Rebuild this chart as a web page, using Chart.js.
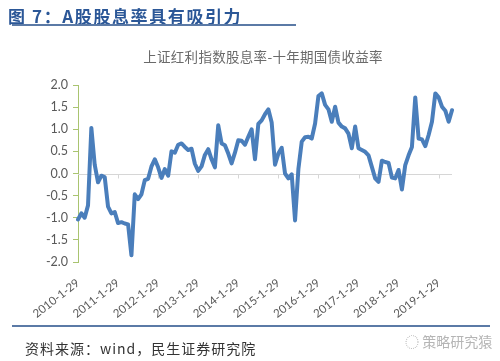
<!DOCTYPE html>
<html>
<head>
<meta charset="utf-8">
<script src="https://cdn.jsdelivr.net/npm/chart.js@4"></script>
<style>
  body { margin: 0; background: #fff; }
  #wrap { position: relative; width: 500px; height: 361px; overflow: hidden; }
  #chart { position: absolute; left: 0; top: 0; }
  .head { position: absolute; left: 8px; top: 3px; font: bold 17px "Noto Sans CJK SC"; color: #2b5797; letter-spacing: 1.6px; white-space: nowrap; }
  .rule { position: absolute; height: 2px; background: #5b7aa6; }
  .ctitle { position: absolute; left: 0; width: 526px; top: 46px; text-align: center; font: 13.5px "Noto Sans CJK SC"; color: #6a6a6a; letter-spacing: 0.3px; white-space: nowrap; }
  .src { position: absolute; left: 25px; top: 338px; font: 14px "Noto Sans CJK SC"; color: #333; letter-spacing: 1px; white-space: nowrap; }
  .mark { position: absolute; left: 405px; top: 331px; font: 14px "Noto Sans CJK SC"; color: #b5b5b5; white-space: nowrap; }
</style>
</head>
<body>
<div id="wrap">
  <canvas id="chart" width="500" height="361"></canvas>
  <div class="head">图 7：A股股息率具有吸引力</div>
  <div class="rule" style="left:12px; top:24px; width:284px;"></div>
  <div class="ctitle">上证红利指数股息率-十年期国债收益率</div>
  <div class="rule" style="left:12px; top:325px; width:478px;"></div>
  <div class="src">资料来源：wind，民生证券研究院</div>
  <div class="mark">◌ 策略研究猿</div>
</div>
<script>
// 上证红利指数股息率 - 十年期国债收益率 (monthly, 2010-01 .. 2019-05)
const spread = [
  -1.04, -0.9, -1.0, -0.72, 1.03, 0.2, -0.2, -0.05, -0.08, -0.75, -0.9, -0.87,
  -1.12, -1.1, -1.13, -1.15, -1.85, -0.47, -0.58, -0.47, -0.15, -0.12, 0.16, 0.32,
  0.14, -0.1, 0.1, -0.05, 0.5, 0.47, 0.65, 0.68, 0.6, 0.53, 0.56, 0.22,
  0.06, 0.16, 0.42, 0.55, 0.32, 0.14, 1.09, 0.68, 0.64, 0.45, 0.23, 0.47,
  0.75, 0.74, 0.65, 0.83, 1.0, 0.32, 1.12, 1.2, 1.34, 1.45, 1.15, 0.2,
  0.45, 0.58, 0.0, -0.11, -0.02, -1.06, 0.1, 0.72, 0.82, 0.83, 0.79, 1.13,
  1.75, 1.81, 1.55, 1.45, 1.17, 1.51, 1.15, 1.06, 1.02, 0.9, 0.57, 1.06,
  0.57, 0.53, 0.49, 0.41, 0.15, -0.11, -0.19, 0.29, 0.26, 0.24, -0.09, -0.11,
  0.08, -0.36, 0.19, 0.41, 0.6, 1.72, 0.79, 0.77, 0.62, 0.87, 1.17, 1.81,
  1.72, 1.51, 1.42, 1.17, 1.43
];

// month-end dates used as categories
const months = [];
for (let k = 0; k < spread.length; k++) {
  const y = 2010 + Math.floor(k / 12), m = (k % 12) + 1;
  months.push(y + "-" + m + "-" + (m === 2 ? 28 : 29));
}

const yMin = -2, yMax = 2, yStep = 0.5;
const labelEvery = 12;

const grey = "#595959";
const axisGreen = "#a9c470";
const lineBlue = "#4a7ebb";

// zero line with the little category ticks hanging under it
const zeroLine = {
  id: "zeroLine",
  beforeDatasetsDraw(chart) {
    const { ctx, chartArea, scales } = chart;
    const y0 = Math.round(scales.y.getPixelForValue(0)) + 0.5;
    ctx.save();
    ctx.strokeStyle = "#d6d6d6";
    ctx.lineWidth = 1;
    ctx.beginPath();
    ctx.moveTo(chartArea.left, y0);
    ctx.lineTo(chartArea.right, y0);
    for (let i = labelEvery; i < months.length; i += labelEvery) {
      const x = Math.round(scales.x.getPixelForValue(i)) + 0.5;
      ctx.moveTo(x, y0);
      ctx.lineTo(x, y0 + 4);
    }
    ctx.stroke();
    ctx.restore();
  }
};

new Chart(document.getElementById("chart"), {
  type: "line",
  data: {
    labels: months,
    datasets: [{
      data: spread,
      borderColor: lineBlue,
      borderWidth: 4,
      borderJoinStyle: "round",
      borderCapStyle: "round",
      pointRadius: 0,
      tension: 0
    }]
  },
  options: {
    responsive: false,
    animation: false,
    layout: { padding: { top: 85, right: 48, bottom: 0, left: 0 } },
    plugins: { legend: { display: false }, tooltip: { enabled: false } },
    scales: {
      x: {
        offset: false,
        grid: { display: false },
        border: { display: false },
        ticks: {
          autoSkip: false,
          minRotation: 38,
          maxRotation: 38,
          padding: 6,
          color: grey,
          font: { family: "Lato", size: 11.5 },
          callback: (v, i) => (i % labelEvery === 0 ? months[i] : "")
        },
        afterFit: s => { s.height = 99; }
      },
      y: {
        min: yMin,
        max: yMax,
        ticks: {
          stepSize: yStep,
          padding: 5,
          color: grey,
          font: { family: "Lato", size: 12.5 },
          callback: v => v.toFixed(1)
        },
        grid: { drawOnChartArea: false, tickLength: 5, color: axisGreen },
        border: { color: axisGreen, width: 1 },
        afterFit: s => { s.width = 78; }
      }
    }
  },
  plugins: [zeroLine]
});
</script>
</body>
</html>
